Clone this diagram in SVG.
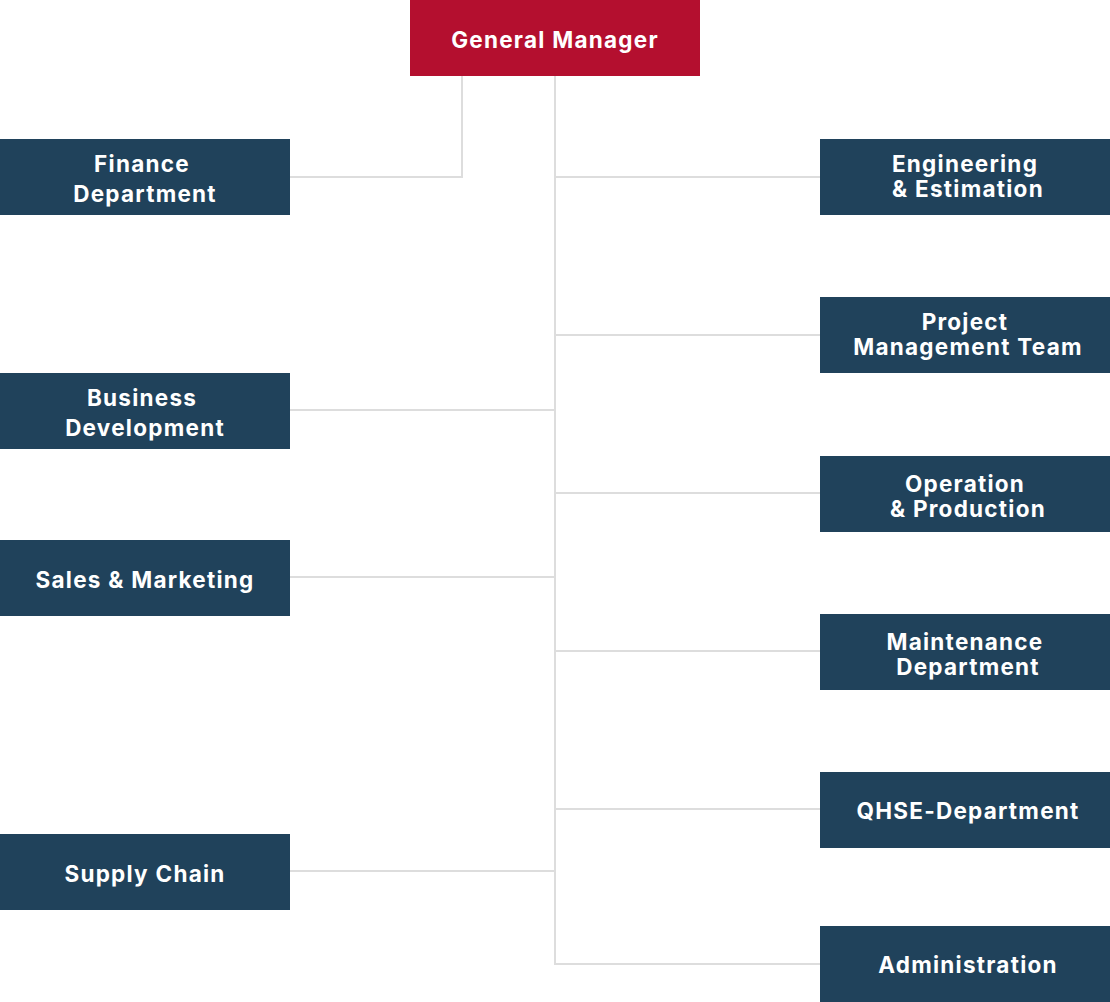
<svg xmlns="http://www.w3.org/2000/svg" width="1110" height="1002" viewBox="0 0 1110 1002">
<style>
.gm{fill:#b40f2f}
.dept{fill:#20425b}
.t{font-family:Inter,"Liberation Sans",sans-serif;font-weight:700;font-size:22.5px;fill:#fff;text-anchor:middle;letter-spacing:1.25px}
.c{stroke:#dddddd;stroke-width:2;fill:none}
</style>
<rect width="1110" height="1002" fill="#fff"/>
<g id="connectors">
<path class="c" d="M462 75V177H290"/>
<path class="c" d="M555 75V964H820"/>
<path class="c" d="M555 177H820"/>
<path class="c" d="M555 335H820"/>
<path class="c" d="M555 493H820"/>
<path class="c" d="M555 651H820"/>
<path class="c" d="M555 809H820"/>
<path class="c" d="M290 410H555"/>
<path class="c" d="M290 577H555"/>
<path class="c" d="M290 871H555"/>
</g>
<g id="general-manager"><rect class="gm" x="410" y="0" width="290" height="76"/><text class="t" x="555" y="48">General Manager</text></g>
<g id="finance"><rect class="dept" x="0" y="139" width="290" height="76"/><text class="t" x="142" y="172">Finance</text><text class="t" x="145" y="202">Department</text></g>
<g id="business"><rect class="dept" x="0" y="373" width="290" height="76"/><text class="t" x="142" y="406">Business</text><text class="t" x="145" y="436">Development</text></g>
<g id="sales"><rect class="dept" x="0" y="540" width="290" height="76"/><text class="t" x="145" y="588">Sales &amp; Marketing</text></g>
<g id="supply"><rect class="dept" x="0" y="834" width="290" height="76"/><text class="t" x="145" y="882">Supply Chain</text></g>
<g id="engineering"><rect class="dept" x="820" y="139" width="290" height="76"/><text class="t" x="965" y="172">Engineering</text><text class="t" x="968" y="197">&amp; Estimation</text></g>
<g id="project"><rect class="dept" x="820" y="297" width="290" height="76"/><text class="t" x="965" y="330">Project</text><text class="t" x="968" y="355">Management Team</text></g>
<g id="operation"><rect class="dept" x="820" y="456" width="290" height="76"/><text class="t" x="965" y="492">Operation</text><text class="t" x="968" y="517">&amp; Production</text></g>
<g id="maintenance"><rect class="dept" x="820" y="614" width="290" height="76"/><text class="t" x="965" y="650">Maintenance</text><text class="t" x="968" y="675">Department</text></g>
<g id="qhse"><rect class="dept" x="820" y="772" width="290" height="76"/><text class="t" x="968" y="819">QHSE-Department</text></g>
<g id="administration"><rect class="dept" x="820" y="926" width="290" height="76"/><text class="t" x="968" y="973">Administration</text></g>
</svg>
